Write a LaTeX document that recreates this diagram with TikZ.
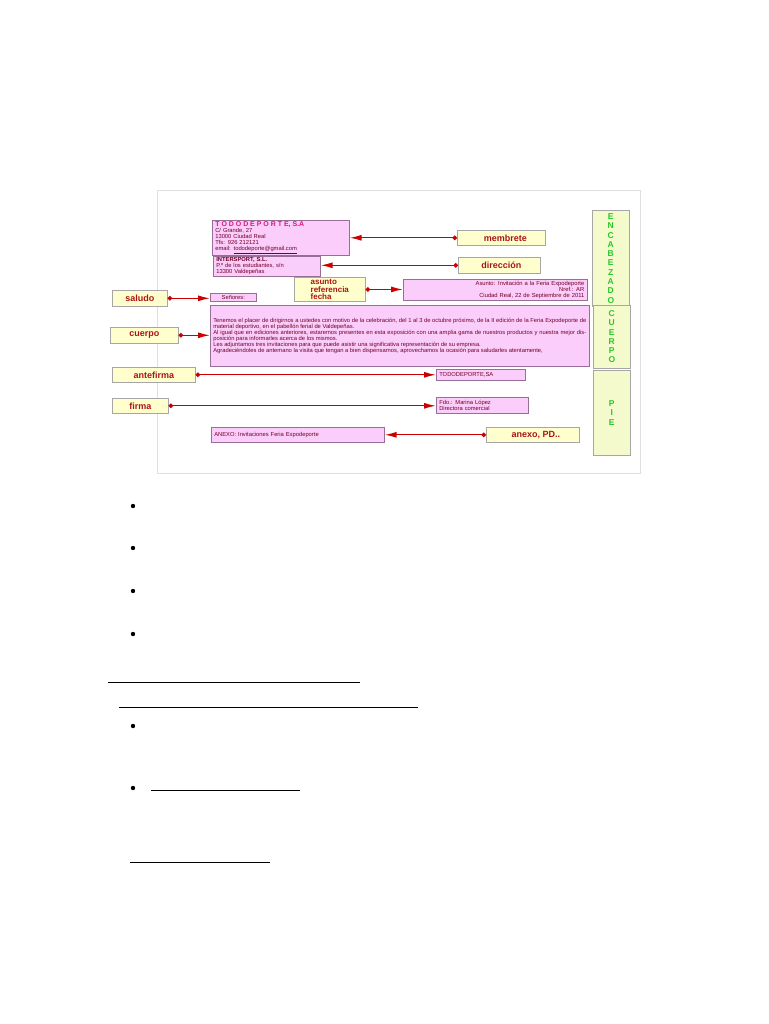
\documentclass[tikz,border=0pt]{standalone}
\usepackage{fontspec}
\setmainfont{Liberation Sans}
\usetikzlibrary{arrows.meta}
\definecolor{pinkbox}{RGB}{250,205,250}
\definecolor{pinkedge}{RGB}{150,110,150}
\definecolor{lab}{RGB}{255,255,205}
\definecolor{labred}{RGB}{170,20,20}
\definecolor{grn}{RGB}{40,200,40}
\definecolor{colb}{RGB}{245,250,205}
\tikzset{
 pb/.style={draw=pinkedge,fill=pinkbox,line width=0.6pt,inner xsep=3pt,inner ysep=1.5pt,anchor=north west,font=\fontsize{5.8}{6}\selectfont,text=purple!60!black},
 lb/.style={draw=gray!70,fill=lab,line width=0.6pt,anchor=north west,font=\bfseries\fontsize{9}{9}\selectfont,text=labred,inner sep=2pt},
 cb/.style={draw=gray!70,fill=colb,line width=0.6pt,anchor=north west,font=\bfseries\fontsize{8.5}{9.3}\selectfont,text=grn,align=center},
 con/.style={draw=red!80!black,line width=1.3pt,{Circle[length=4.5pt]}-{Latex[length=12pt,width=6pt]},fill=red!80!black},
 ul/.style={draw=black,line width=0.6pt}
}
\begin{document}
\begin{tikzpicture}[x=1pt,y=-1pt]
\useasboundingbox (0,0) rectangle (768,1024);
\fill[white] (0,0) rectangle (768,1024);
\draw[gray!25] (157,190) rectangle (640,473);
% pink boxes
\node[pb,minimum width=137pt,minimum height=32pt,text width=131pt,align=left] (mem) at (212,220) {{\bfseries\fontsize{7}{7}\selectfont\color{magenta!70!purple}T O D O D E P O R T E, S.A}\\C/ Grande, 27\\13000 Ciudad Real\\Tfs: 926 212121\\email: \underline{tododeporte@gmail.com}};
\node[pb,minimum width=107pt,minimum height=17pt,text width=101pt,align=left] (dir) at (213,256) {{\bfseries INTERSPORT, S.L.}\\P.º de los estudiantes, s/n\\13300 Valdepeñas};
\node[pb,minimum width=184pt,minimum height=21pt,text width=178pt,align=right] (asu) at (403,279) {Asunto: Invitación a la Feria Expodeporte\\Nref.: AR\\Ciudad Real, 22 de Septiembre de 2011};
\node[pb,minimum width=46pt,minimum height=8pt,inner ysep=1pt] (sal) at (210,293) {Señores:};
\node[pb,minimum width=379pt,minimum height=61pt,text width=373pt,align=justify,inner ysep=2pt] (cue) at (210,305) {Tenemos el placer de dirigirnos a ustedes con motivo de la celebración, del 1 al 3 de octubre próximo, de la II edición de la Feria Expodeporte de material deportivo, en el pabellón ferial de Valdepeñas.\\Al igual que en ediciones anteriores, estaremos presentes en esta exposición con una amplia gama de nuestros productos y nuestra mejor disposición para informarles acerca de los mismos.\\Les adjuntamos tres invitaciones para que puede asistir una significativa representación de su empresa.\\Agradeciéndoles de antemano la visita que tengan a bien dispensarnos, aprovechamos la ocasión para saludarles atentamente,};
\node[pb,minimum width=89pt,minimum height=11pt,text width=83pt,align=left] (ant) at (436,369) {TODODEPORTE,SA};
\node[pb,minimum width=92pt,minimum height=16pt,text width=86pt,align=left] (fir) at (436,397) {Fdo.: Marina López\\Directora comercial};
\node[pb,minimum width=173pt,minimum height=15pt,text width=167pt,align=left] (anx) at (211,427) {ANEXO: Invitaciones Feria Expodeporte};
% labels
\node[lb,minimum width=88pt,minimum height=15pt] (lmem) at (457,230) {\hspace*{8pt}membrete};
\node[lb,minimum width=82pt,minimum height=16pt] (ldir) at (458,257) {\hspace*{4pt}dirección};
\node[lb,minimum width=71pt,minimum height=24pt,align=left,font=\bfseries\fontsize{8}{7.5}\selectfont] (lasu) at (294,277) {asunto\\referencia\\fecha};
\node[lb,minimum width=55pt,minimum height=16pt] (lsal) at (112,290) {saludo};
\node[lb,minimum width=68pt,minimum height=16pt] (lcue) at (110,327) {cuerpo};
\node[lb,minimum width=83pt,minimum height=15pt] (lant) at (112,367) {antefirma};
\node[lb,minimum width=56pt,minimum height=15pt] (lfir) at (112,398) {firma};
\node[lb,minimum width=93pt,minimum height=15pt] (lanx) at (486,427) {\hspace*{6pt}anexo, PD..};
% columns
\node[cb,minimum width=37pt,minimum height=93pt] (cenc) at (592,210) {E\\N\\C\\A\\B\\E\\Z\\A\\D\\O};
\node[cb,minimum width=37pt,minimum height=63pt] (ccue) at (593,305) {C\\U\\E\\R\\P\\O};
\node[cb,minimum width=37pt,minimum height=85pt] (cpie) at (593,370) {P\\I\\E};
% connectors
\draw[con] (lmem.west) -- (mem.east |- lmem.west);
\draw[con] (ldir.west) -- (dir.east |- ldir.west);
\draw[con] (lasu.east) -- (asu.west |- lasu.east);
\draw[con] (lsal.east) -- (sal.west |- lsal.east);
\draw[con] (lcue.east) -- (cue.west |- lcue.east);
\draw[con] (lant.east) -- (ant.west);
\draw[con] (lfir.east) -- (fir.west |- lfir.east);
\draw[con] (lanx.west) -- (anx.east);
% bullets
\foreach \y/\n in {506/b1,548/b2,591/b3,634/b4,726/b5,788/b6}{
  \fill (133,\y) circle (2.2pt) coordinate (\n);}
\draw[ul] (108,682) -- (360,682);
\draw[ul] (119,707) -- (418,707);
\draw[ul] (151,790) -- (300,790);
\draw[ul] (130,862) -- (270,862);
\end{tikzpicture}
\end{document}
